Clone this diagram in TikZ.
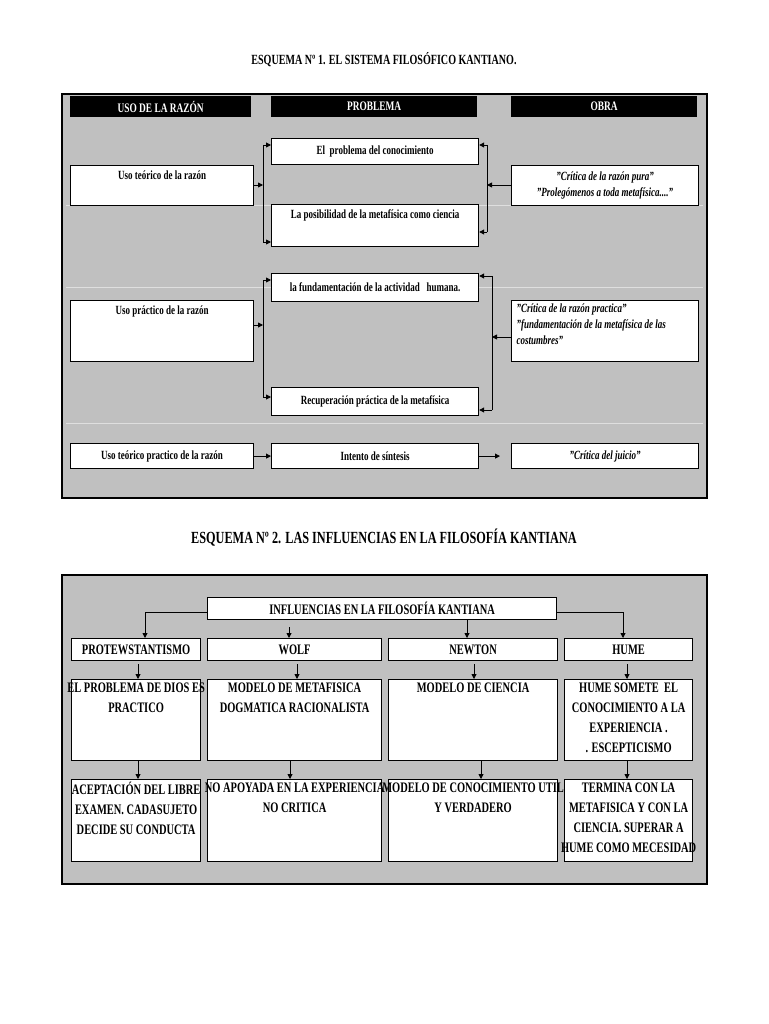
\documentclass[tikz,border=0pt]{standalone}
\usepackage{fontspec}
\setmainfont{Liberation Serif}[FakeStretch=0.72]
\usetikzlibrary{arrows.meta}
\begin{document}
\begin{tikzpicture}[x=1pt,y=-1pt,
  bx/.style={draw=black,line width=1.2pt,fill=white,anchor=north west,inner sep=0pt},
  hd/.style={fill=black,text=white,anchor=north west,inner sep=0pt,align=center,font=\bfseries\fontsize{13}{14}\selectfont},
  t1/.style={font=\bfseries\fontsize{12.5}{15}\selectfont,align=center},
  t1i/.style={font=\bfseries\itshape\fontsize{12.5}{16}\selectfont,align=center},
  t2/.style={font=\bfseries\fontsize{14.5}{20}\selectfont,align=center},
  ar/.style={-{Triangle[length=5pt,width=5pt]},line width=0.9pt},
  ln/.style={line width=0.9pt}]
\useasboundingbox (0,0) rectangle (768,1024);
\fill[white] (0,0) rectangle (768,1024);
\node[font=\bfseries\fontsize{14}{16}\selectfont] (ti1) at (384,60) {ESQUEMA Nº 1. EL SISTEMA FILOSÓFICO KANTIANO.};
\node[font=\bfseries\fontsize{17}{19}\selectfont] (ti2) at (384,538) {ESQUEMA Nº 2. LAS INFLUENCIAS EN LA FILOSOFÍA KANTIANA};
% panel 1
\draw[line width=2.5pt,fill={rgb,255:red,192;green,192;blue,192}] (62,94) rectangle (707,498);
\node[hd,minimum width=181pt,minimum height=21pt] (h1) at (70,96) {USO DE LA RAZÓN};
\node[hd,minimum width=206pt,minimum height=21pt] (h2) at (271,96) {PROBLEMA};
\node[hd,minimum width=186pt,minimum height=21pt] (h3) at (511,96) {OBRA};
\foreach \y in {205,287,423}{\draw[white!75!gray,line width=0.6pt] (66,\y) -- (703,\y);}
% boxes
\node[bx,minimum width=183pt,minimum height=40pt] (ut) at (70,165) {};
\node[t1,anchor=north] at (ut.north) {\strut Uso teórico de la razón};
\node[bx,minimum width=207pt,minimum height=26pt] (pc) at (271,138) {};
\node[t1] at (pc.center) {El\ \ problema del conocimiento};
\node[bx,minimum width=207pt,minimum height=42pt] (pm) at (271,204) {};
\node[t1,anchor=north] at (pm.north) {\strut La posibilidad de la metafísica como ciencia};
\node[bx,minimum width=187pt,minimum height=40pt] (cp) at (511,165) {};
\node[t1i] at (cp.center) {"Crítica de la razón pura"\\"Prolegómenos a toda metafísica...."};
\node[bx,minimum width=183pt,minimum height=61pt] (up) at (70,300) {};
\node[t1,anchor=north] at (up.north) {\strut Uso práctico de la razón};
\node[bx,minimum width=207pt,minimum height=28pt] (fa) at (271,273) {};
\node[t1] at (fa.center) {la fundamentación de la actividad\ \ \ humana.};
\node[bx,minimum width=187pt,minimum height=61pt] (cpr) at (511,300) {};
\node[t1i,align=left,anchor=north west] at (513,300) {"Crítica de la razón practica"\\"fundamentación de la metafísica de las\\costumbres"};
\node[bx,minimum width=207pt,minimum height=28pt] (rp) at (271,387) {};
\node[t1] at (rp.center) {Recuperación práctica de la metafísica};
\node[bx,minimum width=183pt,minimum height=25pt] (utp) at (70,443) {};
\node[t1] at (utp.center) {Uso teórico practico de la razón};
\node[bx,minimum width=207pt,minimum height=25pt] (is) at (271,443) {};
\node[t1] at (is.center) {Intento de síntesis};
\node[bx,minimum width=187pt,minimum height=25pt] (cj) at (511,443) {};
\node[t1i] at (cj.center) {"Crítica del juicio"};
% arrows panel 1
\coordinate (l1) at (263,185);
\draw[ar] (ut.east |- l1) -- (l1);
\draw[ln] (263,145) -- (263,242);
\draw[ar] (263,145) -- (pc.west |- 0,145);
\draw[ar] (263,242) -- (pm.west |- 0,242);
\coordinate (r1) at (487,185);
\draw[ar] (cp.west |- r1) -- (r1);
\draw[ln] (487,145) -- (487,232);
\draw[ar] (487,145) -- (pc.east |- 0,145);
\draw[ar] (487,232) -- (pm.east |- 0,232);
\coordinate (l2) at (263,325);
\draw[ar] (up.east |- l2) -- (l2);
\draw[ln] (263,280) -- (263,397);
\draw[ar] (263,280) -- (fa.west |- 0,280);
\draw[ar] (263,397) -- (rp.west |- 0,397);
\coordinate (r2) at (492,337);
\draw[ar] (cpr.west |- r2) -- (r2);
\draw[ln] (492,276) -- (492,410);
\draw[ar] (492,276) -- (fa.east |- 0,276);
\draw[ar] (492,410) -- (rp.east |- 0,410);
\draw[ar] (utp.east) -- (is.west);
\coordinate (cjx) at (500,0);
\draw[ar] (is.east) -- (cjx |- is.east);
% panel 2
\draw[line width=2.5pt,fill={rgb,255:red,192;green,192;blue,192}] (62,575) rectangle (707,884);
\node[bx,minimum width=349pt,minimum height=22pt] (inf) at (207,597) {};
\node[t2] at (inf.center) {INFLUENCIAS EN LA FILOSOFÍA KANTIANA};
\foreach \n/\x/\w/\t in {pr/71/129/PROTEWSTANTISMO,wo/207/174/WOLF,ne/388/169/NEWTON,hu/564/128/HUME}{
  \node[bx,minimum width=\w pt,minimum height=22pt] (\n1) at (\x,638) {};
  \node[t2] at (\n1.center) {\t};
  \node[bx,minimum width=\w pt,minimum height=81pt] (\n2) at (\x,679) {};
  \node[bx,minimum width=\w pt,minimum height=82pt] (\n3) at (\x,779) {};
}
\node[t2,anchor=north] at (pr2.north) {EL PROBLEMA DE DIOS ES\\PRACTICO};
\node[t2,anchor=north] at (wo2.north) {MODELO DE METAFISICA\\DOGMATICA RACIONALISTA};
\node[t2,anchor=north] at (ne2.north) {MODELO DE CIENCIA};
\node[t2,anchor=north] at (hu2.north) {HUME SOMETE\ \ EL\\CONOCIMIENTO A LA\\EXPERIENCIA .\\. ESCEPTICISMO};
\node[t2,anchor=north] at (pr3.north) {ACEPTACIÓN DEL LIBRE\\EXAMEN. CADASUJETO\\DECIDE SU CONDUCTA};
\node[t2,anchor=north] at (wo3.north) {NO APOYADA EN LA EXPERIENCIA\\NO CRITICA};
\node[t2,anchor=north] at (ne3.north) {MODELO DE CONOCIMIENTO UTIL\\Y VERDADERO};
\node[t2,anchor=north] at (hu3.north) {TERMINA CON LA\\METAFISICA Y CON LA\\CIENCIA. SUPERAR A\\HUME COMO MECESIDAD};
% arrows panel 2
\draw[ar] (inf.west |- 0,612) -| (pr1.north -| 145,0);
\coordinate (wa) at (289,627);
\draw[ar] (wa) -- (wa |- wo1.north);
\draw[ar] (inf.south -| 467,0) -- (ne1.north -| 467,0);
\draw[ar] (inf.east |- 0,612) -| (hu1.north -| 623,0);
\foreach \n/\a/\b in {pr/138/138,wo/297/290,ne/474/481,hu/627/627}{
  \coordinate (\n a) at (\a,664);
  \draw[ar] (\n a) -- (\n a |- \n2.north);
  \draw[ar] (\n2.south -| \b,0) -- (\n3.north -| \b,0);
}
\end{tikzpicture}
\end{document}
